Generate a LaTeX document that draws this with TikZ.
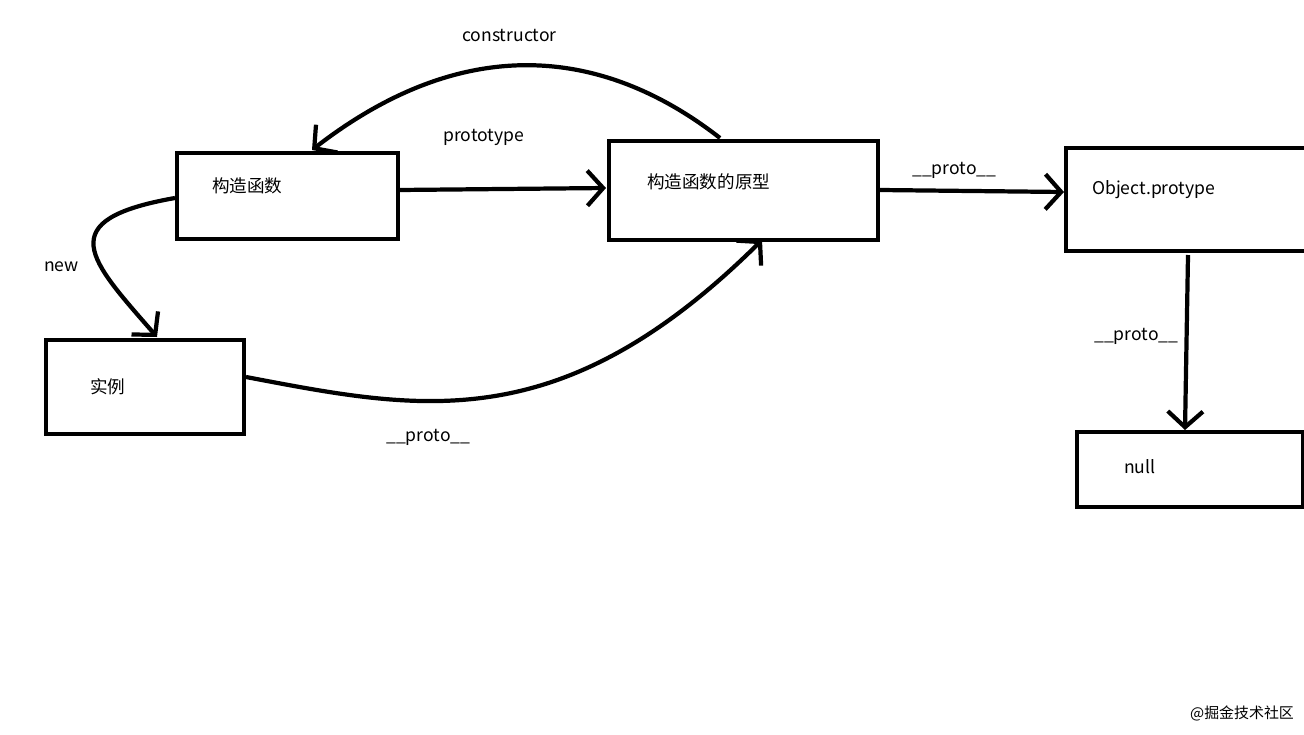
\documentclass[tikz,border=0pt]{standalone}
\usepackage{fontspec}
\setmainfont{Noto Sans CJK SC}
\usetikzlibrary{arrows.meta}
\begin{document}
\begin{tikzpicture}[x=0.02cm,y=-0.02cm,
  box/.style={draw,line width=2.2pt,inner sep=0pt,anchor=north west},
  lbl/.style={font=\fontsize{10}{12}\selectfont,anchor=west},
  conn/.style={line width=2.4pt,-{Straight Barb[length=9pt,width=20pt,line width=2.4pt]}}]
\useasboundingbox[fill=white] (0,0) rectangle (1304,734);
\node[box,minimum width=4.42cm,minimum height=1.72cm] (gz) at (175,151) {};
\node[box,minimum width=5.38cm,minimum height=1.98cm] (yx) at (607,139) {};
\node[box,minimum width=4.9cm,minimum height=2.06cm] (obj) at (1064,146) {};
\node[box,minimum width=3.96cm,minimum height=1.88cm] (sl) at (44,338) {};
\node[box,minimum width=4.52cm,minimum height=1.5cm] (nl) at (1075,430) {};
\node[lbl] (t1) at (206,186) {构造函数};
\node[lbl] (t2) at (641,182) {构造函数的原型};
\node[lbl] (t3) at (1086,190) {Object.protype};
\node[lbl] (t4) at (84,387) {实例};
\node[lbl] (t5) at (1118,467) {null};
\node[lbl] (l1) at (456,35) {constructor};
\node[lbl] (l2) at (437,137) {prototype};
\node[lbl] (l3) at (38,267) {new};
\node[lbl] (l4) at (380,437) {\_\_proto\_\_};
\node[lbl] (l5) at (906,170) {\_\_proto\_\_};
\node[lbl] (l6) at (1088,336) {\_\_proto\_\_};
\node[font=\fontsize{8.5}{10}\selectfont] (wm) at (1242,713) {@掘金技术社区};
\coordinate (a1) at (720,138); \coordinate (a2) at (312,150);
\draw[conn] (a1) .. controls (620,60) and (480,20) .. (a2);
\coordinate (b1) at (399,190); \coordinate (b2) at (606,188);
\draw[conn] (b1) -- (b2);
\coordinate (c1) at (175,198); \coordinate (c2) at (157,337);
\draw[conn] (c1) .. controls (50,220) and (90,260) .. (c2);
\coordinate (d1) at (246,377); \coordinate (d2) at (762,240);
\draw[conn] (d1) .. controls (420,410) and (560,440) .. (d2);
\coordinate (e1) at (880,190); \coordinate (e2) at (1064,192);
\draw[conn] (e1) -- (e2);
\coordinate (f1) at (1188,255); \coordinate (f2) at (1185,430);
\draw[conn] (f1) -- (f2);
\end{tikzpicture}
\end{document}
